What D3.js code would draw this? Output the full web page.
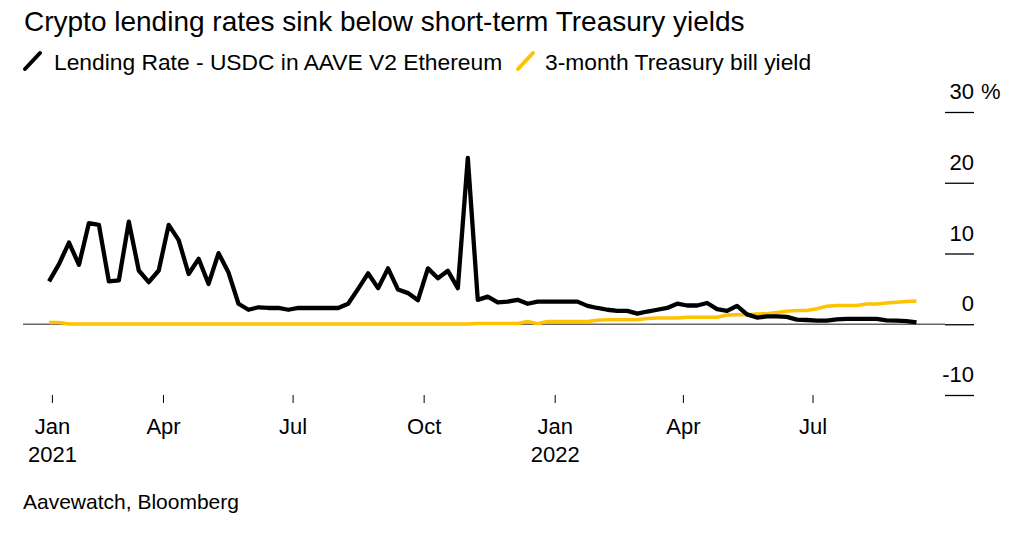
<!DOCTYPE html>
<html>
<head>
<meta charset="utf-8">
<script src="https://cdn.jsdelivr.net/npm/d3@7"></script>
<style>
    body { margin: 0; background: #fff; }
    svg text { font-family: "Liberation Sans", Arial, Helvetica, sans-serif; fill: #000; }
</style>
</head>
<body>
<svg id="lendingPlot" width="1027" height="540"></svg>
<script>
// weekly observations
const week_dates = [
    "2021-01-11", "2021-01-18", "2021-01-25", "2021-02-01", "2021-02-08", "2021-02-15", "2021-02-22",
    "2021-03-01", "2021-03-08", "2021-03-15", "2021-03-22", "2021-03-29", "2021-04-05", "2021-04-12",
    "2021-04-19", "2021-04-26", "2021-05-03", "2021-05-10", "2021-05-17", "2021-05-24", "2021-05-31",
    "2021-06-07", "2021-06-14", "2021-06-21", "2021-06-28", "2021-07-05", "2021-07-12", "2021-07-19",
    "2021-07-26", "2021-08-02", "2021-08-09", "2021-08-16", "2021-08-23", "2021-08-30", "2021-09-06",
    "2021-09-13", "2021-09-20", "2021-09-27", "2021-10-04", "2021-10-11", "2021-10-18", "2021-10-25",
    "2021-11-01", "2021-11-08", "2021-11-15", "2021-11-22", "2021-11-29", "2021-12-06", "2021-12-13",
    "2021-12-20", "2021-12-27", "2022-01-03", "2022-01-10", "2022-01-17", "2022-01-24", "2022-01-31",
    "2022-02-07", "2022-02-14", "2022-02-21", "2022-02-28", "2022-03-07", "2022-03-14", "2022-03-21",
    "2022-03-28", "2022-04-04", "2022-04-11", "2022-04-18", "2022-04-25", "2022-05-02", "2022-05-09",
    "2022-05-16", "2022-05-23", "2022-05-30", "2022-06-06", "2022-06-13", "2022-06-20", "2022-06-27",
    "2022-07-04", "2022-07-11", "2022-07-18", "2022-07-25", "2022-08-01", "2022-08-08", "2022-08-15",
    "2022-08-22", "2022-08-29", "2022-09-05", "2022-09-12"
];

// Lending Rate - USDC in AAVE V2 Ethereum (%)
const lending_rate = [
    6.05, 8.5, 11.55, 8.4, 14.3, 14.05, 6.05, 6.2, 14.5, 7.6, 5.95, 7.6, 14.05, 11.9,
    7.1, 9.25, 5.7, 10.05, 7.3, 2.9, 2.05, 2.4, 2.3, 2.3, 2.05, 2.3, 2.3, 2.3,
    2.3, 2.3, 2.9, 5.0, 7.2, 5.1, 7.9, 4.9, 4.4, 3.4, 7.9, 6.5, 7.55, 5.1,
    23.5, 3.45, 3.9, 3.1, 3.2, 3.45, 2.9, 3.2, 3.2, 3.2, 3.2, 3.2, 2.6, 2.3,
    2.05, 1.9, 1.9, 1.5, 1.8, 2.05, 2.3, 2.9, 2.65, 2.65, 3.0, 2.15, 1.9, 2.6,
    1.4, 0.95, 1.1, 1.1, 1.05, 0.65, 0.6, 0.5, 0.5, 0.7, 0.75, 0.75, 0.75, 0.75,
    0.55, 0.5, 0.45, 0.25
];

// 3-month Treasury bill yield (%)
const tbill_yield = [
    0.25, 0.25, 0.05, 0.05, 0.05, 0.05, 0.05, 0.05, 0.05, 0.05, 0.05, 0.05, 0.05, 0.05,
    0.05, 0.05, 0.05, 0.05, 0.05, 0.05, 0.05, 0.05, 0.05, 0.05, 0.05, 0.05, 0.05, 0.05,
    0.05, 0.05, 0.05, 0.05, 0.05, 0.05, 0.05, 0.05, 0.05, 0.05, 0.05, 0.05, 0.05, 0.05,
    0.05, 0.1, 0.1, 0.1, 0.1, 0.1, 0.4, 0.07, 0.4, 0.4, 0.4, 0.4, 0.4, 0.55,
    0.65, 0.65, 0.65, 0.65, 0.8, 0.9, 0.9, 0.9, 1.0, 1.0, 1.0, 1.0, 1.3, 1.35,
    1.35, 1.45, 1.5, 1.65, 1.85, 1.95, 1.95, 2.2, 2.55, 2.65, 2.65, 2.65, 2.85, 2.85,
    3.0, 3.1, 3.2, 3.3
];

const y_tick_values = [-10, 0, 10, 20, 30];
const x_tick_dates = ["2021-01-13", "2021-04-01", "2021-07-01", "2021-10-01", "2022-01-01", "2022-04-01", "2022-07-01"];
const x_tick_months = ["Jan", "Apr", "Jul", "Oct", "Jan", "Apr", "Jul"];
const x_tick_years = ["2021", "", "", "", "2022", "", ""];

const title_text = "Crypto lending rates sink below short-term Treasury yields";
const legend_labels = ["Lending Rate - USDC in AAVE V2 Ethereum", "3-month Treasury bill yield"];
const source_text = "Aavewatch, Bloomberg";

const line_colors = ["#000000", "#ffc200"];

const parse_date = d3.timeParse("%Y-%m-%d");
const svg = d3.select("#lendingPlot");

const x_scale = d3.scaleTime()
    .domain([parse_date("2021-04-01"), parse_date("2022-07-01")])
    .range([163, 812.5]);
const y_scale = d3.scaleLinear().domain([-10, 30]).range([395, 112]);

const lending_data = week_dates.map((d, i) => ({ date: parse_date(d), value: lending_rate[i] }));
const tbill_data = week_dates.map((d, i) => ({ date: parse_date(d), value: tbill_yield[i] }));

// title
svg.append("text")
    .attr("x", 24)
    .attr("y", 31)
    .attr("font-size", 28)
    .text(title_text);

// legend
const legend_x = [[25, 54], [518, 545]];
legend_labels.forEach((label, i) => {
    svg.append("line")
        .attr("x1", legend_x[i][0]).attr("y1", 69)
        .attr("x2", legend_x[i][0] + 15).attr("y2", 53)
        .attr("stroke", line_colors[i])
        .attr("stroke-width", 4)
        .attr("stroke-linecap", "round");
    svg.append("text")
        .attr("x", legend_x[i][1])
        .attr("y", 70)
        .attr("font-size", 22.8)
        .text(label);
});

// y axis on the right, labels sit above their tick lines
const y_axis = svg.append("g")
    .attr("transform", "translate(974, 0)")
    .call(d3.axisLeft(y_scale).tickValues(y_tick_values).tickSize(29).tickFormat((d) => String(d)));
y_axis.select(".domain").remove();
y_axis.selectAll(".tick line").attr("stroke", "#000").attr("stroke-width", 1.3);
y_axis.selectAll(".tick text")
    .attr("x", 0)
    .attr("y", -13.5)
    .attr("dy", null)
    .attr("font-size", 22)
    .attr("font-family", null);
svg.append("text")
    .attr("x", 981)
    .attr("y", y_scale(30) - 13.5)
    .attr("font-size", 22)
    .text("%");

// zero line
svg.append("line")
    .attr("x1", 23).attr("x2", 945)
    .attr("y1", y_scale(0)).attr("y2", y_scale(0))
    .attr("stroke", "#666")
    .attr("stroke-width", 1.5);

// x axis
const x_axis = svg.append("g")
    .attr("transform", "translate(0, 395)")
    .call(d3.axisBottom(x_scale)
        .tickValues(x_tick_dates.map(parse_date))
        .tickSize(8)
        .tickFormat((d, i) => x_tick_months[i]));
x_axis.select(".domain").remove();
x_axis.selectAll(".tick line").attr("stroke", "#000");
x_axis.selectAll(".tick text")
    .attr("y", 39)
    .attr("dy", null)
    .attr("font-size", 22)
    .attr("font-family", null);
x_axis.selectAll(".tick")
    .append("text")
    .attr("y", 66.5)
    .attr("fill", "#000")
    .attr("font-size", 22)
    .text((d, i) => x_tick_years[i]);

// lines
const line = d3.line()
    .x((d) => x_scale(d.date))
    .y((d) => y_scale(d.value))
    .curve(d3.curveLinear);

svg.append("path")
    .datum(tbill_data)
    .attr("fill", "none")
    .attr("stroke", line_colors[1])
    .attr("stroke-width", 3.5)
    .attr("stroke-linejoin", "round")
    .attr("d", line);

svg.append("path")
    .datum(lending_data)
    .attr("fill", "none")
    .attr("stroke", line_colors[0])
    .attr("stroke-width", 4.3)
    .attr("stroke-linejoin", "round")
    .attr("d", line);

// source
svg.append("text")
    .attr("x", 23)
    .attr("y", 509)
    .attr("font-size", 21)
    .text(source_text);
</script>
</body>
</html>
